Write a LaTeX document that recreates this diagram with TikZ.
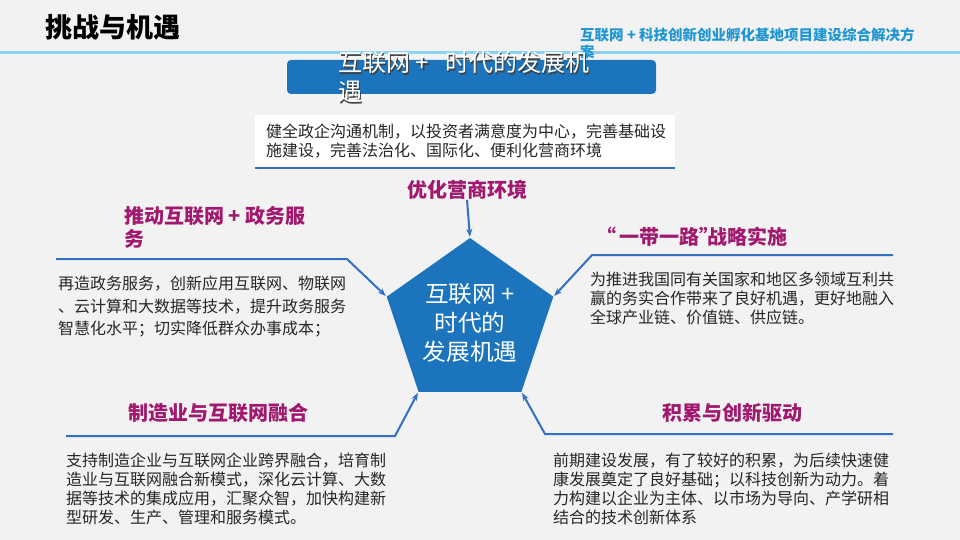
\documentclass[tikz,border=0pt]{standalone}
\usepackage{fontspec}
\setmainfont{Noto Sans CJK SC}
\usepackage{tikz}
\usetikzlibrary{shapes.geometric,arrows.meta,positioning,calc}
\usepackage{xcolor}
\definecolor{pagebg}{RGB}{242,242,242}
\definecolor{plum}{RGB}{160,25,110}
\definecolor{lineblue}{RGB}{50,112,196}
\definecolor{boxblue}{RGB}{28,117,188}
\definecolor{skyblue}{RGB}{30,150,210}
\definecolor{paleblue}{RGB}{140,210,245}
\definecolor{ink}{RGB}{38,38,38}

\begin{document}
\begin{tikzpicture}[x=1pt,y=-1pt,
  every node/.style={inner sep=0pt},
  head/.style={anchor=west,text=plum,align=left,
    font=\bfseries\fontsize{20}{23}\selectfont},
  body/.style={anchor=west,text=ink,align=left,
    font=\fontsize{16}{19}\selectfont},
  flow/.style={lineblue,line width=2pt,
    -{Stealth[length=8pt,width=6pt]},shorten >=1pt}]
\fill[pagebg] (0,0) rectangle (960,540);
\useasboundingbox (0,0) rectangle (960,540);
% page header
\node[anchor=west,font=\bfseries\fontsize{27}{30}\selectfont] (title) at (45,27) {挑战与机遇};
\draw[paleblue,line width=3pt] (0,53) -- (960,53);
\node[anchor=west,text=skyblue,align=left,font=\bfseries\fontsize{14.5}{17}\selectfont]
  (subtitle) at (580,43) {互联网 + 科技创新创业孵化基地项目建设综合解决方\\案};
% banner
\node[fill=boxblue,rounded corners=4pt,minimum width=369,minimum height=34]
  (ttlbox) at (471.5,77) {};
\node[anchor=west,text=black!75,align=left,font=\fontsize{24}{29}\selectfont]
  (ttlshade) at (339.5,78.5) {互联网 +~~~时代的发展机\\遇};
\node[anchor=west,text=white,align=left,font=\fontsize{24}{29}\selectfont]
  (ttltext) at (338,77) {互联网 +~~~时代的发展机\\遇};
% top block
\node[body,anchor=center,fill=white,minimum width=420,minimum height=53,
  inner xsep=11,text width=398] (envbox) at (465,141.5)
  {健全政企沟通机制，以投资者满意度为中心，完善基础设\\施建设，完善法治化、国际化、便利化营商环境};
\draw[lineblue,line width=2.5pt] (envbox.south west) -- (envbox.south east);
\node[head,anchor=center] (youhua) at (467,190) {优化营商环境};
% centre
\node[regular polygon,regular polygon sides=5,minimum size=170,xscale=1.03,
  fill=boxblue,text=white,align=center,font=\fontsize{23}{29}\selectfont]
  (core) at (470,323) {互联网 +\\时代的\\发展机遇};
\draw[flow] (youhua.south) -- (core.corner 1);
% upper left
\node[head] (zwhead) at (124,227) {推动互联网 + 政务服\\务};
\coordinate (zwa) at (56,259);
\coordinate (zwb) at (347,259);
\draw[flow] (zwa) -- (zwb) -- (core.corner 2);
\node[body,font=\fontsize{16}{22.5}\selectfont] (zwtext) at (58,307)
  {再造政务服务，创新应用互联网、物联网\\、云计算和大数据等技术，提升政务服务\\智慧化水平；切实降低群众办事成本；};
% upper right
\node[head] (ydhead) at (596,237) {“\kern3pt 一带一路”\kern-12pt 战略实施};
\coordinate (ydb) at (893,255);
\coordinate (yda) at (592,255);
\draw[flow] (ydb) -- (yda) -- (core.corner 5);
\node[body] (ydtext) at (590,298.5)
  {为推进我国同有关国家和地区多领域互利共\\赢的务实合作带来了良好机遇，更好地融入\\全球产业链、价值链、供应链。};
% lower left
\node[head] (zzhead) at (128,413) {制造业与互联网融合};
\coordinate (zza) at (66,436);
\coordinate (zzb) at (395,436);
\draw[flow] (zza) -- (zzb) -- (core.corner 3);
\node[body] (zztext) at (66,489)
  {支持制造企业与互联网企业跨界融合，培育制\\造业与互联网融合新模式，深化云计算、大数\\据等技术的集成应用，汇聚众智，加快构建新\\型研发、生产、管理和服务模式。};
% lower right
\node[head] (jlhead) at (662,413) {积累与创新驱动};
\coordinate (jlb) at (893,434);
\coordinate (jla) at (545,434);
\draw[flow] (jlb) -- (jla) -- (core.corner 4);
\node[body] (jltext) at (553,489)
  {前期建设发展，有了较好的积累，为后续快速健\\康发展奠定了良好基础；以科技创新为动力。着\\力构建以企业为主体、以市场为导向、产学研相\\结合的技术创新体系};
\end{tikzpicture}
\end{document}
